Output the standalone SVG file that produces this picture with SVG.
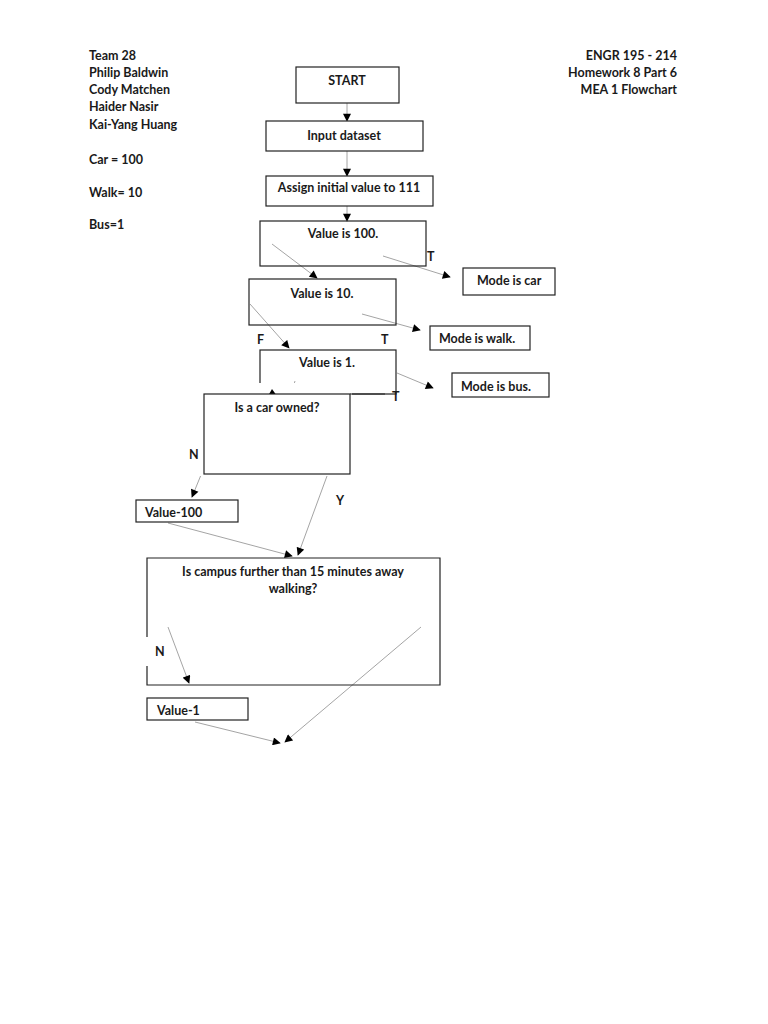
<svg xmlns="http://www.w3.org/2000/svg" width="768" height="1024" viewBox="0 0 768 1024">
<style>
text{font-family:Lato,"Liberation Sans",sans-serif;font-size:12.5px;font-weight:bold;fill:#1a1a1a}
.c{text-anchor:middle}
.r{text-anchor:end}
.box{fill:#fff;stroke:#222;stroke-width:1.2}
.ln{fill:none;stroke:#222;stroke-width:1.2}
.cn{fill:none;stroke:#9a9a9a;stroke-width:0.9;marker-end:url(#ah)}
</style>
<defs>
<marker id="ah" viewBox="0 0 10 10" refX="9" refY="5" markerWidth="9" markerHeight="8" markerUnits="userSpaceOnUse" orient="auto">
<path d="M0,0 L10,5 L0,10 z" fill="#000"/>
</marker>
</defs>
<rect width="768" height="1024" fill="#fff"/>
<g id="header-left">
<text x="89" y="60">Team 28</text>
<text x="89" y="77">Philip Baldwin</text>
<text x="89" y="94">Cody Matchen</text>
<text x="89" y="111">Haider Nasir</text>
<text x="89" y="129">Kai-Yang Huang</text>
<text x="89" y="164">Car = 100</text>
<text x="89" y="197">Walk= 10</text>
<text x="89" y="229">Bus=1</text>
</g>
<g id="header-right">
<text class="r" x="677" y="60">ENGR 195 - 214</text>
<text class="r" x="677" y="77">Homework 8 Part 6</text>
<text class="r" x="677" y="94">MEA 1 Flowchart</text>
</g>
<g id="connectors">
<line class="cn" x1="347" y1="103" x2="347" y2="121"/>
<line class="cn" x1="347" y1="151" x2="347" y2="176"/>
<line class="cn" x1="347" y1="206" x2="347" y2="221"/>
<line class="cn" x1="383" y1="256" x2="450" y2="277"/>
<line class="cn" x1="272" y1="244" x2="317" y2="278"/>
<line class="cn" x1="362" y1="314" x2="420" y2="330"/>
<line class="cn" x1="250" y1="304" x2="289" y2="348"/>
<line class="cn" x1="397" y1="373" x2="433" y2="388"/>
<line x1="295" y1="381" x2="291" y2="394" stroke="#9a9a9a" stroke-width="0.9"/>
<line class="cn" x1="203" y1="470" x2="192" y2="497"/>
<line class="cn" x1="327" y1="476" x2="298" y2="555"/>
<line class="cn" x1="168" y1="523" x2="292" y2="556"/>
<line class="cn" x1="168" y1="627" x2="189" y2="683"/>
<line class="cn" x1="421" y1="627" x2="285" y2="742"/>
<line class="cn" x1="195" y1="722" x2="280" y2="743"/>
</g>
<g id="start"><rect class="box" x="296" y="67" width="103" height="36"/><text class="c" x="347" y="85">START</text></g>
<g id="input"><rect class="box" x="266" y="121" width="157" height="30"/><text class="c" x="344" y="140">Input dataset</text></g>
<g id="assign"><rect class="box" x="266" y="176" width="167" height="30"/><text class="c" x="349" y="192">Assign initial value to 111</text></g>
<g id="v100"><rect class="box" x="260" y="221" width="166" height="45" fill-opacity="0"/><text class="c" x="343" y="238">Value is 100.</text></g>
<g id="v10"><rect class="box" x="249" y="279" width="147" height="46" fill-opacity="0"/><text class="c" x="322" y="298">Value is 10.</text></g>
<g id="v1"><rect class="box" x="260" y="350" width="136" height="44" fill-opacity="0"/><text class="c" x="327" y="367">Value is 1.</text></g>
<g id="car"><rect class="box" x="463" y="268" width="92" height="27"/><text x="477" y="285">Mode is car</text></g>
<g id="walk"><rect class="box" x="430" y="326" width="100" height="24"/><text x="439" y="343">Mode is walk.</text></g>
<g id="bus"><rect class="box" x="452" y="373" width="97" height="24"/><text x="461" y="391">Mode is bus.</text></g>
<g id="owned">
<rect x="200" y="383" width="152" height="93" fill="#fff"/>
<path d="M272,389 L277,396 L268,396 z" fill="#000"/>
<rect class="box" x="204" y="394" width="146" height="80"/>
<line class="ln" x1="350" y1="394" x2="385" y2="394"/>
<text class="c" x="277" y="412">Is a car owned?</text>
</g>
<g id="v100box"><rect class="box" x="136" y="500" width="102" height="22"/><text x="145" y="517">Value-100</text></g>
<g id="campus">
<path class="ln" d="M147,637 L147,558 L440,558 L440,685 L147,685 L147,666"/>
<text class="c" x="293" y="576">Is campus further than 15 minutes away</text>
<text class="c" x="293" y="593">walking?</text>
</g>
<g id="v1box"><rect class="box" x="147" y="698" width="101" height="22"/><text x="157" y="715">Value-1</text></g>
<g id="labels">
<text x="427" y="261">T</text>
<text x="257" y="344">F</text>
<text x="381" y="344">T</text>
<text x="392" y="401">T</text>
<text x="189" y="459">N</text>
<text x="336" y="505">Y</text>
<text x="155" y="656">N</text>
</g>
</svg>
